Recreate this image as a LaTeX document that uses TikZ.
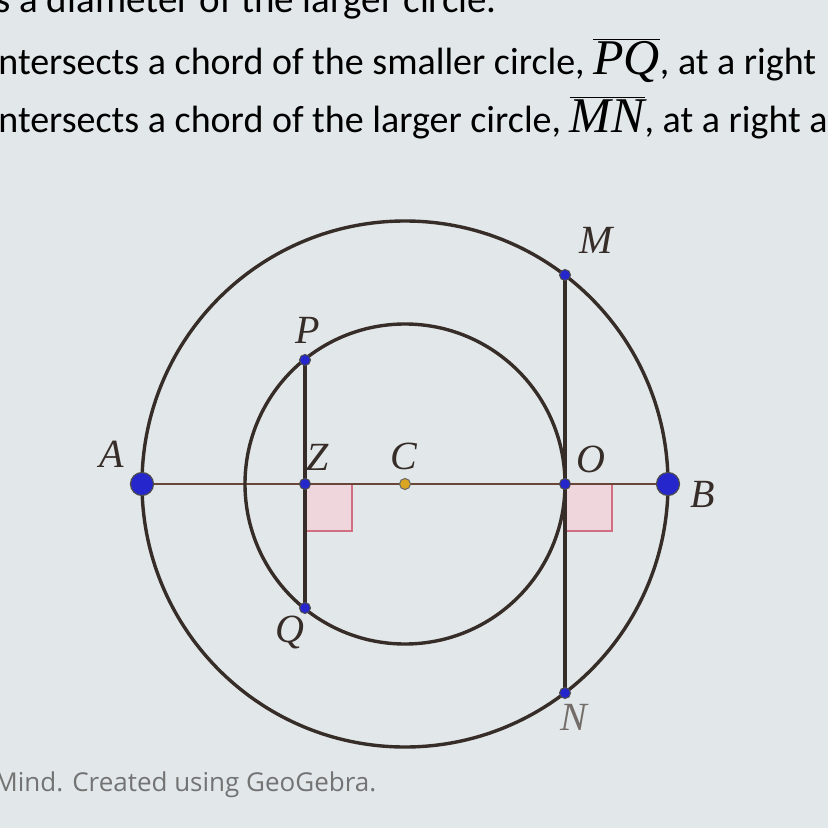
\documentclass[tikz,border=0pt]{standalone}
\usepackage{fontspec}
\setmainfont{Carlito}
\newfontfamily\labelfont{Liberation Serif}
\newfontfamily\notefont{Open Sans}
\definecolor{screen}{RGB}{226,231,233}
\definecolor{ptblue}{RGB}{38,38,205}
\definecolor{ptgold}{RGB}{218,165,32}
\definecolor{rightred}{RGB}{210,110,130}
\definecolor{rightfill}{RGB}{238,214,220}
\definecolor{axisbrown}{RGB}{105,70,55}
\definecolor{labelgray}{RGB}{55,45,40}

\begin{document}
\begin{tikzpicture}[x=0.5pt,y=-0.5pt]
        % Page and screen
        \useasboundingbox (0,0) rectangle (828,828);
        \clip (0,0) rectangle (828,828);
        \fill[screen] (0,0) rectangle (828,828);
        % Question text
        \node[anchor=base west, inner sep=0pt, font=\fontsize{19.5}{22}\selectfont] (line1) at (-5,13)
            {s a diameter of the larger circle.};
        \node[anchor=base west, inner sep=0pt, font=\fontsize{19}{22}\selectfont] (line2) at (-2,75)
            {ntersects a chord of the smaller circle, $\overline{\hbox{\labelfont\itshape\fontsize{25}{26}\selectfont PQ}}$, at a right};
        \node[anchor=base west, inner sep=0pt, font=\fontsize{19}{22}\selectfont] (line3) at (-2,133)
            {ntersects a chord of the larger circle, $\overline{\hbox{\labelfont\itshape\fontsize{25}{26}\selectfont MN}}$, at a right a};
        % Points of the figure
        \coordinate (C) at (405,484);
        \coordinate (A) at (142,484);
        \coordinate (B) at (668,484);
        \coordinate (Z) at (305,484);
        \coordinate (P) at (305,360);
        \coordinate (Q) at (305,608);
        \coordinate (O) at (565,484);
        \coordinate (M) at (565,275);
        \coordinate (N) at (565,693);
        % Right angle marks
        \draw[rightred, fill=rightfill, line width=1pt] (Z) rectangle ++(47,47);
        \draw[rightred, fill=rightfill, line width=1pt] (O) rectangle ++(47,47);
        % Diameter
        \draw[axisbrown, line width=1.1pt] (A) -- (B);
        % Circles
        \draw[labelgray, line width=1.7pt] (C) circle[radius=263];
        \draw[labelgray, line width=1.7pt] (C) circle[radius=160];
        % Chords
        \draw[labelgray, line width=1.7pt] (P) -- (Q);
        \draw[labelgray, line width=1.7pt] (M) -- (N);
        % Dots
        \foreach \p in {A,B} {
            \fill[ptblue, draw=black!70, line width=0.6pt] (\p) circle[radius=11.5];
        }
        \foreach \p in {Z,P,Q,O,M,N} {
            \fill[ptblue, draw=black!70, line width=0.5pt] (\p) circle[radius=5.5];
        }
        \fill[ptgold, draw=black!60, line width=0.5pt] (C) circle[radius=5.5];
        % Labels
        \node[text=labelgray, font=\labelfont\itshape\fontsize{20}{22}\selectfont] (lA) at (112,454) {A};
        \node[text=labelgray, font=\labelfont\itshape\fontsize{20}{22}\selectfont] (lZ) at (318,457) {Z};
        \node[text=labelgray, font=\labelfont\itshape\fontsize{20}{22}\selectfont] (lC) at (404,456) {C};
        \node[text=labelgray, font=\labelfont\itshape\fontsize{20}{22}\selectfont] (lO) at (591,459) {O};
        \node[text=labelgray, font=\labelfont\itshape\fontsize{20}{22}\selectfont] (lB) at (703,494) {B};
        \node[text=labelgray, font=\labelfont\itshape\fontsize{20}{22}\selectfont] (lP) at (308,330) {P};
        \node[text=labelgray, font=\labelfont\itshape\fontsize{20}{22}\selectfont] (lQ) at (290,632) {Q};
        \node[text=labelgray, font=\labelfont\itshape\fontsize{20}{22}\selectfont] (lM) at (596,240) {M};
        \node[text=labelgray!70, font=\labelfont\itshape\fontsize{20}{22}\selectfont] (lN) at (574,717) {N};
        % Credit line
        \node[anchor=base west, inner sep=0pt, text=black!55, font=\notefont\fontsize{13}{15}\selectfont] (credit) at (-6,791)
            {Mind. Created using GeoGebra.};
    \end{tikzpicture}
\end{document}
